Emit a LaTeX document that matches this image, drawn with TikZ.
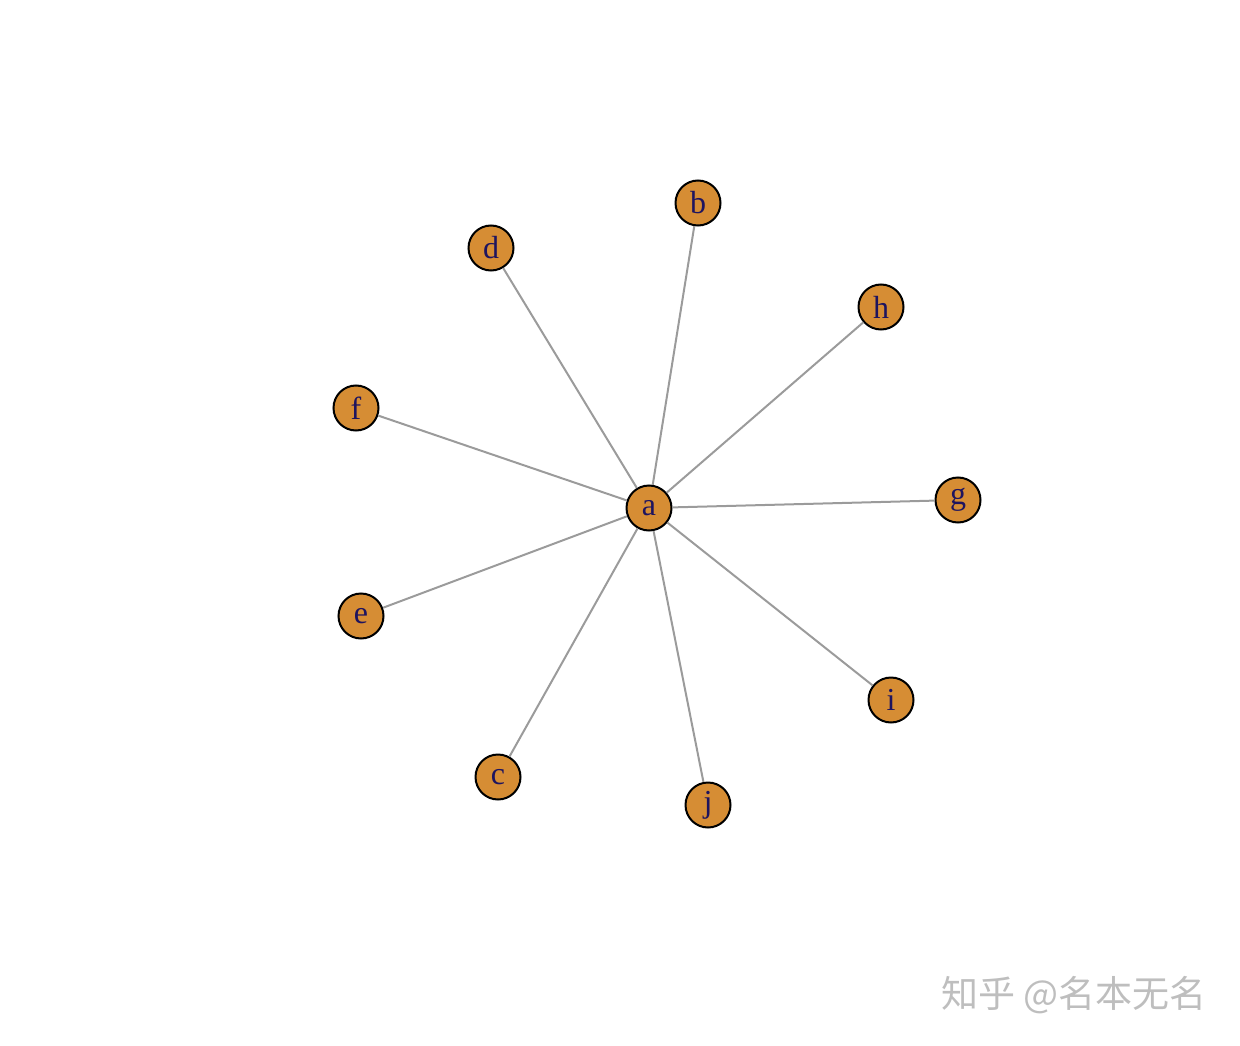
\documentclass[tikz,border=0pt]{standalone}
\usepackage{fontspec}
\setmainfont{Liberation Serif}
\newfontfamily\cjk{Noto Sans CJK SC}
\definecolor{nodefill}{RGB}{214,141,52}
\definecolor{labcol}{RGB}{30,20,95}
\definecolor{edgecol}{RGB}{155,155,155}
\definecolor{wmcol}{RGB}{190,190,190}
\begin{document}
\begin{tikzpicture}[x=1pt,y=-1pt,
  vert/.style={circle,draw=black,line width=2pt,fill=nodefill,minimum size=45pt,inner sep=0pt,text=labcol,font=\fontsize{32}{32}\selectfont},
  edge/.style={draw=edgecol,line width=2pt}]
\useasboundingbox (0,0) rectangle (1240,1046);
\node[vert] (a) at (649,508) {a};
\node[vert] (b) at (698,203) {b};
\node[vert] (d) at (491,248) {d};
\node[vert] (h) at (881,307) {h};
\node[vert] (f) at (356,408) {f};
\node[vert] (g) at (958,500) {g};
\node[vert] (e) at (361,616) {e};
\node[vert] (i) at (891,700) {i};
\node[vert] (c) at (498,777) {c};
\node[vert] (j) at (708,805) {j};
\foreach \n in {b,d,h,f,g,e,i,c,j}{\draw[edge] (a) -- (\n);}
\node[text=wmcol,font=\cjk\fontsize{37}{37}\selectfont,inner sep=0pt] (wm) at (1074,995) {知乎 @名本无名};
\end{tikzpicture}
\end{document}
